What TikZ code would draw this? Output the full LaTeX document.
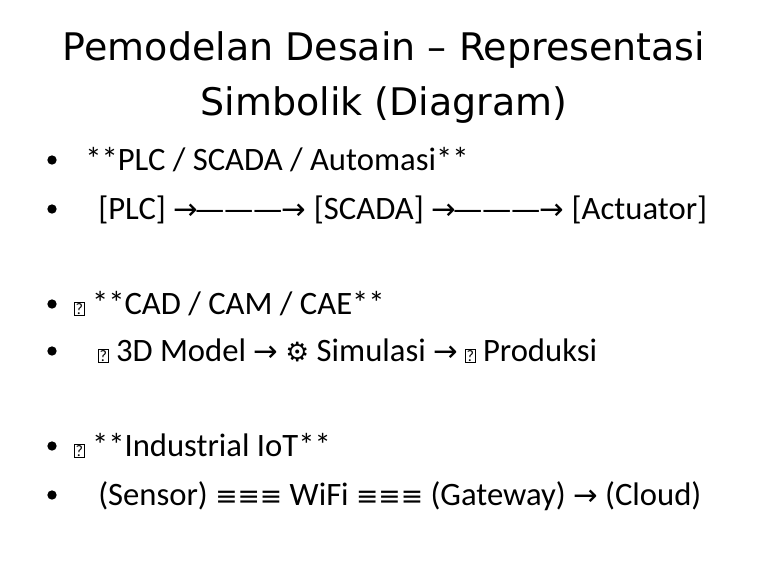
\documentclass[tikz,border=0pt]{standalone}
\usepackage{fontspec}
\setmainfont{Carlito}
\newfontfamily\titlefont{DejaVu Sans}
\newfontfamily\symfont{DejaVu Sans}
\newcommand{\miss}{\raisebox{0pt}{\fboxsep=0.6pt\fboxrule=0.5pt\fbox{\fontsize{12}{12}\selectfont ?}}}
\newcommand{\sym}[1]{{\symfont\fontsize{20}{20}\selectfont #1}}
\newcommand{\arr}{{\symfont\fontsize{22}{22}\selectfont →}}
\newcommand{\longarr}{{\symfont\fontsize{22}{22}\selectfont →\kern-2pt———\kern-1pt→}}
\begin{document}
\begin{tikzpicture}[x=0.75pt,y=-0.75pt,
  titletext/.style={font=\titlefont\fontsize{28.5}{34}\selectfont, anchor=base},
  bodytext/.style={font=\fontsize{24.5}{29}\selectfont, anchor=base west, inner sep=0pt},
  dot/.style={circle, fill=black, inner sep=0pt, minimum size=7pt}]
\useasboundingbox (0,0) rectangle (768,576);
% title
\node[titletext] (t1) at (384,60) {Pemodelan Desain – Representasi};
\node[titletext] (t2) at (384,115) {Simbolik (Diagram)};
% bullets
\foreach \yy in {160,209,304,351,446,495} \node[dot] at (52,\yy) {};
\node[bodytext] (b1) at (85,170) {**PLC / SCADA / Automasi**};
\node[bodytext] (b2) at (98,219) {[PLC] \longarr{} [SCADA] \longarr{} [Actuator]};
\node[bodytext] (b3) at (74,314) {\miss{} **CAD / CAM / CAE**};
\node[bodytext] (b4) at (98,361) {\miss{} 3D Model \arr{} \sym{⚙} Simulasi \arr{} \miss{} Produksi};
\node[bodytext] (b5) at (74,456) {\miss{} **Industrial IoT**};
\node[bodytext] (b6) at (98,505) {(Sensor) \sym{≡≡≡} WiFi \sym{≡≡≡} (Gateway) \arr{} (Cloud)};
\end{tikzpicture}
\end{document}
